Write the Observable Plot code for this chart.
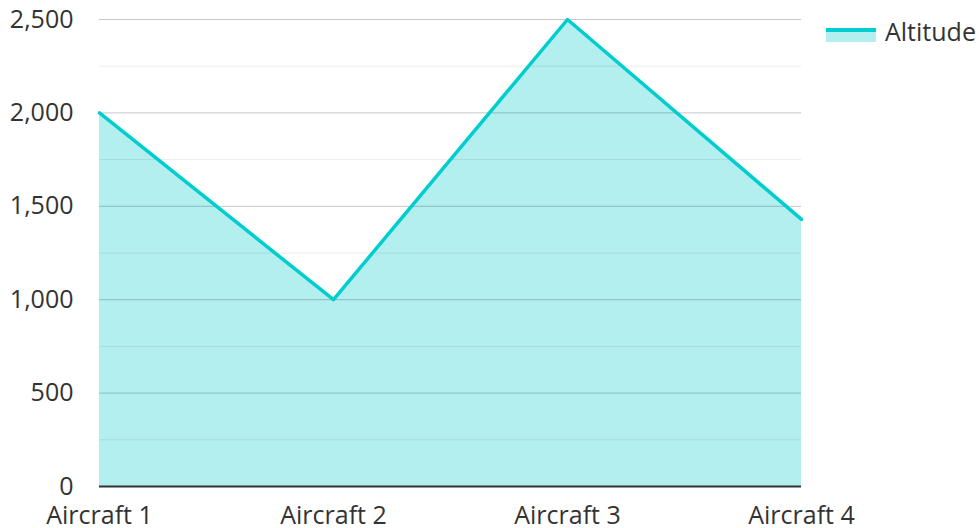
<!DOCTYPE html>
<html>
<head>
<meta charset="utf-8">
<script src="https://cdn.jsdelivr.net/npm/d3@7"></script>
<script src="https://cdn.jsdelivr.net/npm/@observablehq/plot@0.6"></script>
<style>
  html, body { margin: 0; padding: 0; background: #fff; }
  #wrap { position: relative; width: 979px; height: 528px; font-family: "Open Sans", sans-serif; }
  #wrap svg text { font-size: 25px !important; font-family: "Open Sans", sans-serif !important; }
  #legend { position: absolute; left: 826px; top: 13px; display: flex; align-items: center; font-size: 25px; color: #333; line-height: 36px; }
  #legend .sw { width: 50px; height: 14px; position: relative; margin-right: 9px; margin-top: 8px; }
  #legend .sw .ln { position: absolute; left: 0; top: 0; width: 50px; height: 4px; background: #00cdcd; }
  #legend .sw .fl { position: absolute; left: 0; top: 4px; width: 50px; height: 10px; background: #b3efef; }
</style>
</head>
<body>
<div id="wrap"></div>
<script>
const categories = ["Aircraft 1", "Aircraft 2", "Aircraft 3", "Aircraft 4"];
const altitude = [2000, 1000, 2500, 1430];
const yTicks = [0, 500, 1000, 1500, 2000, 2500];
const yMinor = [250, 750, 1250, 1750, 2250];
const seriesName = "Altitude";

const data = categories.map((c, i) => ({category: c, value: altitude[i]}));

const chart = Plot.plot({
  width: 979,
  height: 528,
  marginLeft: 99,
  marginRight: 178,
  marginTop: 19,
  marginBottom: 42,
  style: {fontFamily: "Open Sans, sans-serif", fontSize: "25px", color: "#333", background: "#fff", overflow: "visible"},
  x: {type: "point", domain: categories, padding: 0, label: null},
  y: {domain: [0, 2500], label: null},
  marks: [
    Plot.areaY(data, {x: "category", y: "value", fill: "#b3efef"}),
    Plot.ruleY(yMinor, {stroke: "#000", strokeOpacity: 0.08, strokeWidth: 1}),
    Plot.ruleY(yTicks.filter(d => d > 0), {stroke: "#000", strokeOpacity: 0.22, strokeWidth: 1}),
    Plot.lineY(data, {x: "category", y: "value", stroke: "#00cdcd", strokeWidth: 3.5}),
    Plot.ruleY([0], {stroke: "#333", strokeWidth: 2}),
    Plot.axisY({ticks: yTicks, tickSize: 0, tickPadding: 26, tickFormat: d3.format(","), fontSize: 25, fill: "#333"}),
    Plot.axisX({tickSize: 0, tickPadding: 20, fontSize: 25, fill: "#333"})
  ]
});

const wrap = document.getElementById("wrap");
wrap.appendChild(chart);
const legend = document.createElement("div");
legend.id = "legend";
legend.innerHTML = `<div class="sw"><div class="ln"></div><div class="fl"></div></div><span></span>`;
legend.querySelector("span").textContent = seriesName;
wrap.appendChild(legend);
</script>
</body>
</html>
